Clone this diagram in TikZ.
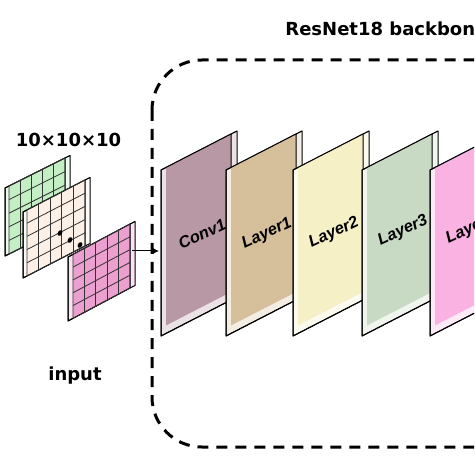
\documentclass[tikz,border=0pt]{standalone}
\usepackage{fontspec}
\setmainfont{DejaVu Sans}
\newfontfamily\lblfont{Liberation Sans}
\usetikzlibrary{arrows.meta}
\definecolor{cconv}{RGB}{184,152,164}
\definecolor{clone}{RGB}{214,192,156}
\definecolor{cltwo}{RGB}{246,240,198}
\definecolor{clthree}{RGB}{200,218,195}
\definecolor{clfour}{RGB}{250,178,226}
\definecolor{cgreen}{RGB}{196,238,196}
\definecolor{ccream}{RGB}{253,240,230}
\definecolor{cpink}{RGB}{236,160,208}
\tikzset{
  dashbox/.style={line width=1.5pt,dash pattern=on 5.5pt off 4pt,rounded corners=25pt},
  gridline/.style={black!80,line width=0.4pt},
  lbl/.style={font=\lblfont\bfseries\itshape\fontsize{8.2}{9}\selectfont,rotate=25,inner sep=0pt},
  title/.style={font=\bfseries\fontsize{9}{10}\selectfont,inner sep=0pt},
}
% #1 L, #2 T, #3 W, #4 rise, #5 H, #6 colour, #7 left strip, #8 bottom strip, #9 depth
\newcommand\myslab[9]{%
  \pgfmathsetmacro\sxA{#1}\pgfmathsetmacro\syA{#2}%
  \pgfmathsetmacro\sxB{#1+#3}\pgfmathsetmacro\syB{#2-#4}%
  \pgfmathsetmacro\syC{#2-#4+#5}\pgfmathsetmacro\syD{#2+#5}%
  \pgfmathsetmacro\ddx{#9}\pgfmathsetmacro\ddy{-0.5*#9}%
  \pgfmathsetmacro\ixA{#1+#7}\pgfmathsetmacro\iyA{#2-#7*#4/#3}%
  \pgfmathsetmacro\iyD{\iyA+#5-#8}\pgfmathsetmacro\iyC{\syB+#5-#8}%
  \filldraw[fill=#6!28!white,draw=black,line width=0.5pt,line join=round]
    (\sxA,\syA) -- ({\sxA+\ddx},{\syA+\ddy}) -- ({\sxB+\ddx},{\syB+\ddy})
    -- ({\sxB+\ddx},{\syC+\ddy}) -- (\sxB,\syC) -- (\sxA,\syD) -- cycle;
  \fill[#6] (\ixA,\iyA) -- (\sxB,\syB) -- (\sxB,\iyC) -- (\ixA,\iyD) -- cycle;
  \draw[line width=0.5pt,line join=round] (\sxA,\syA) -- (\sxB,\syB) -- (\sxB,\syC) -- (\sxA,\syD) -- cycle;
  \draw[line width=0.3pt] (\sxB,\syB) -- ({\sxB+\ddx},{\syB+\ddy});
}
\newcommand\mygrid{%
  \foreach \k in {1,...,4}{%
    \pgfmathsetmacro\gx{\ixA+\k*(\sxB-\ixA)/5}%
    \pgfmathsetmacro\gy{\iyA+\k*(\syB-\iyA)/5}%
    \pgfmathsetmacro\gh{\iyD-\iyA}%
    \draw[gridline] (\gx,\gy) -- (\gx,{\gy+\gh});
    \pgfmathsetmacro\hy{\k*(\iyD-\iyA)/5}%
    \draw[gridline] (\ixA,{\iyA+\hy}) -- (\sxB,{\syB+\hy});
  }
  \draw[gridline] (\ixA,\iyA) -- (\sxB,\syB) -- (\sxB,\iyC) -- (\ixA,\iyD) -- cycle;
}
\begin{document}
\begin{tikzpicture}[x=0.5pt,y=-0.5pt]
\useasboundingbox (0,0) rectangle (474,474);
\clip (0,0) rectangle (474,474);
\fill[white] (0,0) rectangle (474,474);

% title and dashed backbone frame
\node[title,anchor=west] (ttl) at (285,29) {ResNet18 backbone};
\draw[dashbox] (152,60) rectangle (620,447);

% input stack
\node[title] (dims) at (68.5,140) {10×10×10};
\myslab{5}{188}{60}{30}{68}{cgreen}{4}{0}{5}\mygrid
\myslab{23}{212}{62}{32}{66}{ccream}{4}{0}{5}\mygrid
\fill[rotate around={-30:(60,233)}] (60,233) ellipse (2.2 and 3);
\fill[rotate around={-30:(70,240)}] (70,240) ellipse (2.2 and 3);
\fill[rotate around={-30:(80,245)}] (80,245) ellipse (2.2 and 3);
\myslab{68}{257}{62}{33}{64}{cpink}{5}{0}{5}\mygrid
\node[title] (inp) at (75,376) {input};

% arrow into backbone
\coordinate (gout) at (132,251);
\coordinate (cin) at (159,251);
\draw[line width=0.5pt,-{Latex[length=3pt,width=3pt]}] (gout) -- (cin);

% backbone layers
\myslab{161}{170}{70}{36}{166}{cconv}{5}{8}{6}
\node[lbl] (lc) at (202,234) {Conv1};
\myslab{226}{170}{70}{36}{166}{clone}{5}{8}{6}
\node[lbl] (la) at (267,234) {Layer1};
\myslab{293}{170}{70}{36}{166}{cltwo}{5}{8}{6}
\node[lbl] (lb) at (334,233) {Layer2};
\myslab{362}{170}{70}{36}{166}{clthree}{5}{8}{6}
\node[lbl] (ld) at (403,231) {Layer3};
\myslab{430}{170}{70}{36}{166}{clfour}{5}{8}{6}
\node[lbl] (le) at (471,229) {Layer4};
\end{tikzpicture}
\end{document}
